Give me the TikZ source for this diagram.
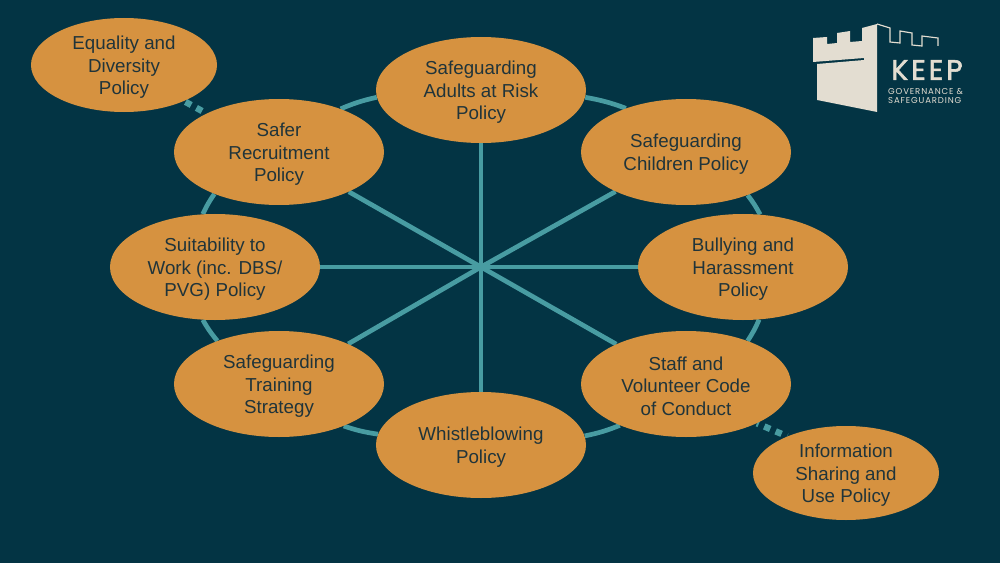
\documentclass[tikz,border=0pt]{standalone}
\usepackage{fontspec}
\setmainfont{Liberation Sans}
\newfontfamily\logofont[LetterSpace=11,FakeBold=2]{Poppins}
\newfontfamily\tagfont[LetterSpace=10]{Poppins}
\usetikzlibrary{shapes.geometric,backgrounds}
\definecolor{bgblue}{RGB}{3,52,68}
\definecolor{policyfill}{RGB}{214,146,64}
\definecolor{ringteal}{RGB}{72,156,162}
\definecolor{logocream}{RGB}{227,221,209}
\definecolor{policytext}{RGB}{32,52,58}
\newcommand{\topgap}{\rule{0pt}{15.5pt}}
\tikzset{policy/.style={ellipse,fill=policyfill,text=policytext,inner sep=-4pt,align=center,
    minimum width=6.3cm,minimum height=3.18cm,font=\fontsize{16}{19.3}\selectfont}}
\tikzset{sidepolicy/.style={policy,minimum width=5.58cm,minimum height=2.82cm}}
\tikzset{spoke/.style={draw=ringteal,line width=4pt}}
\tikzset{ring/.style={draw=ringteal,line width=4pt}}
\tikzset{dots/.style={draw=ringteal,line width=5.5pt,dash pattern=on 5.5pt off 5.1pt}}

\begin{document}
\begin{tikzpicture}[x=.03cm,y=-.03cm]
    \useasboundingbox (0,0) rectangle (1000,563);

    \node[policy] (adults) at (481,90) {\topgap Safeguarding\\Adults at Risk\\Policy};
    \node[policy] (children) at (686,152) {\topgap Safeguarding\\Children Policy};
    \node[policy] (bullying) at (743,267) {\topgap Bullying and\\Harassment\\Policy};
    \node[policy] (staff) at (686,384) {\topgap Staff and\\Volunteer Code\\of Conduct};
    \node[policy] (whistle) at (481,445) {\topgap Whistleblowing\\Policy};
    \node[policy] (training) at (279,384) {\topgap Safeguarding\\Training\\Strategy};
    \node[policy] (suitability) at (215,267) {\topgap Suitability to\\Work (inc. DBS/\\PVG) Policy};
    \node[policy] (safer) at (279,152) {\topgap Safer\\Recruitment\\Policy};
    \node[sidepolicy] (equality) at (124,65) {\topgap Equality and\\Diversity\\Policy};
    \node[sidepolicy] (sharing) at (846,473) {\topgap Information\\Sharing and\\Use Policy};
    \coordinate (hub) at (481,267);

    % logo
    \fill[logocream] (813,38) -- (827,37) -- (827,44) -- (837,43) -- (837,33) -- (850,31)
      -- (850,42) -- (862,41) -- (862,28) -- (877,24) -- (877,112) -- (817,100) -- (817,64)
      -- (864,60) -- (864,58) -- (813,62) -- cycle;
    \draw[logocream,line width=1pt] (877,24) -- (890,28) -- (890,42) -- (900,43) -- (900,31)
      -- (912,33) -- (912,45) -- (922,46) -- (922,36) -- (938,38) -- (938,46);
    \node[inner sep=0pt,text=logocream,font=\logofont\fontsize{24}{24}\selectfont] (keep) at (927,70) {KEEP};
    \node[inner sep=0pt,text=logocream,align=left,anchor=north west,
      font=\tagfont\fontsize{7.3}{8}\selectfont] (tagline) at (888,88) {GOVERNANCE \&\\SAFEGUARDING};

    \begin{pgfonlayer}{background}
      \fill[bgblue] (0,0) rectangle (1000,563);
      \foreach \n in {adults,children,bullying,staff,whistle,training,suitability,safer}{
        \draw[spoke] (hub) -- (\n);
      }
      \foreach \a/\s/\b/\e in {safer/35.8/adults/184.4,adults/-4.4/children/144.8,
        children/-35.2/bullying/72.9,bullying/-73.7/staff/35.6,staff/212.6/whistle/5.5,
        whistle/174.5/training/-33.9,training/145.7/suitability/257.8,suitability/103/safer/213.9}{
        \draw[ring] (\a.\s) to[bend left=5] (\b.\e);
      }
      \draw[dots,dash phase=9.2pt] (equality.-31) -- (safer.152);
      \draw[dots,dash phase=3.8pt] (staff.-29) -- (sharing.148);
    \end{pgfonlayer}
\end{tikzpicture}
\end{document}
